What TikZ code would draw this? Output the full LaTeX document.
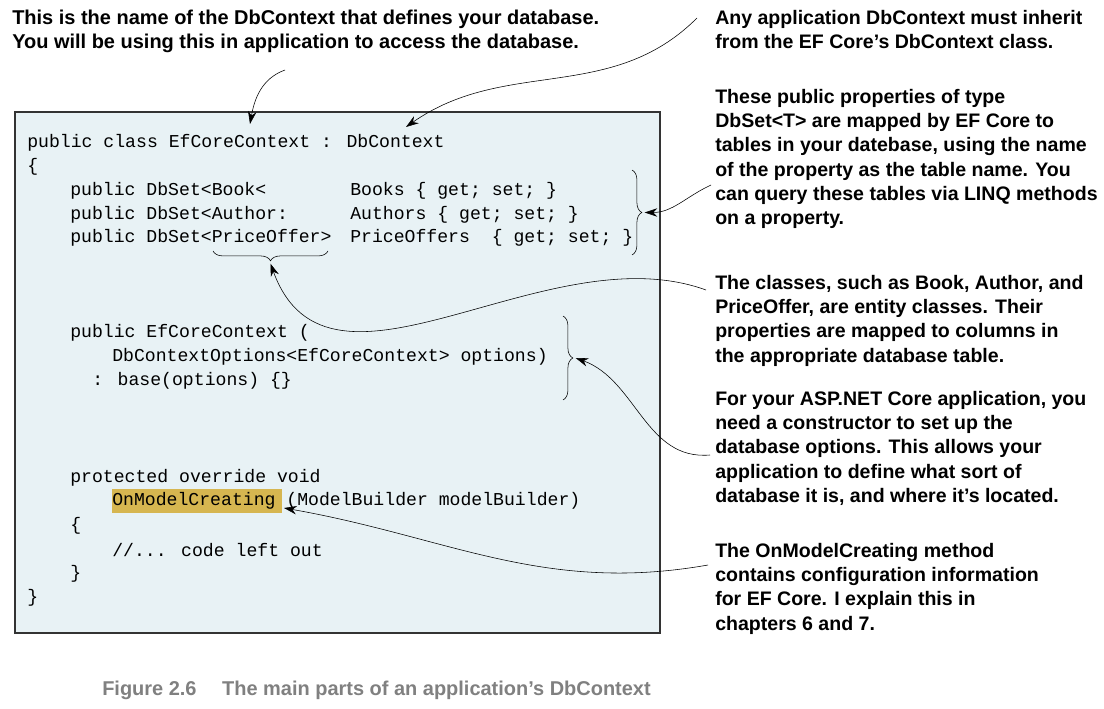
\documentclass[tikz,border=0pt]{standalone}
\usepackage{fontspec}
\setmainfont{Liberation Sans}
\newfontfamily\codefont{Liberation Mono}
\usetikzlibrary{positioning,arrows.meta,decorations.pathreplacing}
\definecolor{boxfill}{RGB}{232,242,245}
\definecolor{hilite}{RGB}{214,182,80}
\definecolor{capgray}{RGB}{128,128,128}
\tikzset{
  code/.style={anchor=west,inner sep=0pt,font=\codefont\fontsize{12.9}{17}\selectfont},
  note/.style={anchor=north west,inner sep=0pt,align=left,font=\bfseries\fontsize{14.2}{17.2}\selectfont},
  rnote/.style={note,font=\bfseries\fontsize{13.9}{17.2}\selectfont},
  callout/.style={-{Stealth[length=9pt,width=6pt]},thin},
  curly/.style={decorate,decoration={brace,amplitude=7pt},thin}
}
\begin{document}
\begin{tikzpicture}[x=0.025cm,y=-0.025cm]
  \useasboundingbox (0,0) rectangle (1104,709);
  % code box
  \draw [fill=boxfill,draw=black!80,thick] (15,112) rectangle (660,633);
  \fill [hilite] (112,489) rectangle (282,513);
  \node [code] at (27,143) (l1) {public class EfCoreContext : DbContext};
  \node [code] at (27,167) {\{};
  \node [code] at (70,191) {public DbSet<Book<};
  \node [code] at (350,191) {Books \{ get; set; \}};
  \node [code] at (70,215) {public DbSet<Author:};
  \node [code] at (350,215) {Authors \{ get; set; \}};
  \node [code] at (70,238) {public DbSet<PriceOffer>};
  \node [code] at (350,238) {PriceOffers\ \ \{ get; set; \}};
  \node [code] at (70,333) {public EfCoreContext (};
  \node [code] at (112,357) {DbContextOptions<EfCoreContext> options)};
  \node [code] at (92,381) {: base(options) \{\}};
  \node [code] at (70,478) {protected override void};
  \node [code] at (112,501) (omc) {OnModelCreating (ModelBuilder modelBuilder)};
  \node [code] at (70,526) {\{};
  \node [code] at (112,550) {//... code left out};
  \node [code] at (70,574) {\}};
  \node [code] at (27,598) {\}};
  % braces
  \draw [curly] (632,170) -- (632,255) coordinate [pos=0.5,xshift=9pt] (b1);
  \draw [curly] (328,251) -- (213,251) coordinate [pos=0.5,yshift=-9pt] (b2);
  \draw [curly] (563,316) -- (563,400) coordinate [pos=0.5,xshift=9pt] (b3);
  % notes
  \node [note] at (12,10) (n0) {This is the name of the DbContext that defines your database.\\You will be using this in application to access the database.};
  \node [rnote] at (715,10) (n1) {Any application DbContext must inherit\\from the EF Core’s DbContext class.};
  \node [rnote] at (715,89) (n2) {These public properties of type\\DbSet<T> are mapped by EF Core to\\tables in your datebase, using the name\\of the property as the table name. You\\can query these tables via LINQ methods\\on a property.};
  \node [rnote] at (715,275) (n3) {The classes, such as Book, Author, and\\PriceOffer, are entity classes. Their\\properties are mapped to columns in\\the appropriate database table.};
  \node [rnote] at (715,391) (n4) {For your ASP.NET Core application, you\\need a constructor to set up the\\database options. This allows your\\application to define what sort of\\database it is, and where it’s located.};
  \node [rnote] at (715,543) (n5) {The OnModelCreating method\\contains configuration information\\for EF Core. I explain this in\\chapters 6 and 7.};
  \node [anchor=west,inner sep=0pt,text=capgray,font=\bfseries\fontsize{14.2}{17}\selectfont] at (102,690) (cap) {Figure 2.6\quad\ The main parts of an application’s DbContext};
  % callouts
  \coordinate (t0) at (285,70);
  \coordinate (h0) at (250,124);
  \coordinate (t1) at (697,18);
  \coordinate (h1) at (406,127);
  \coordinate (t2) at (711,185);
  \coordinate (t3) at (706,290);
  \coordinate (t4) at (710,455);
  \coordinate (t5) at (708,565);
  \coordinate (h5) at (284,508);
  \draw [callout] (t0) to [out=200,in=80] (h0);
  \draw [callout] (t1) to [out=225,in=35] (h1);
  \draw [callout] (t2) to [out=205,in=0] (b1);
  \draw [callout] (t3) to [out=160,in=-70] (b2);
  \draw [callout] (t4) to [out=185,in=-20] (b3);
  \draw [callout] (t5) to [out=190,in=-10] (h5);
\end{tikzpicture}
\end{document}
